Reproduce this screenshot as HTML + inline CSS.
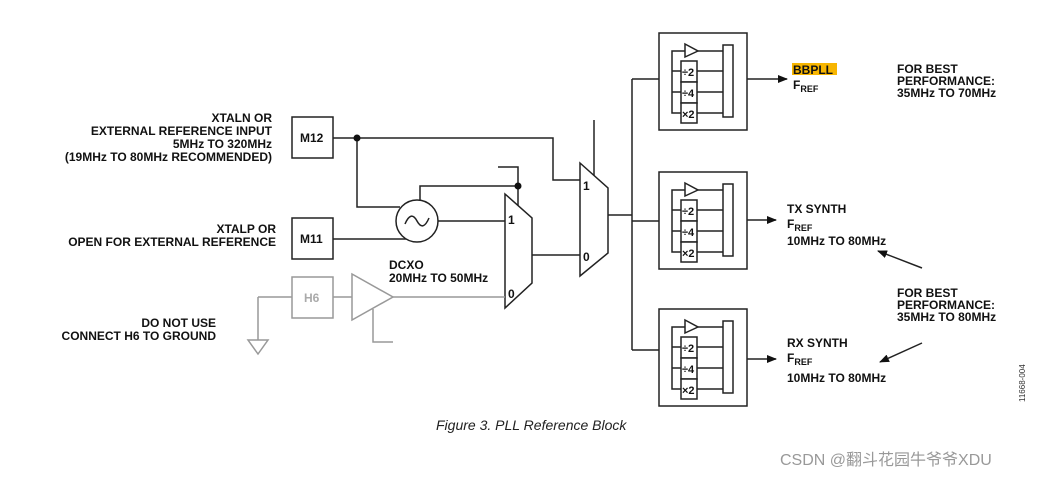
<!DOCTYPE html>
<html><head><style>
body{margin:0;background:#fff;}
svg{display:block;font-family:"Liberation Sans",Arial,sans-serif;}
text.b{font-weight:bold;font-size:12px;fill:#111;}
</style></head><body>
<svg width="1044" height="477" viewBox="0 0 1044 477" xmlns="http://www.w3.org/2000/svg">
<defs>
<marker id="ah" markerWidth="10" markerHeight="8" refX="9" refY="4" orient="auto" markerUnits="userSpaceOnUse"><path d="M0,0 L10,4 L0,8z" fill="#111"/></marker>
<g id="blk" stroke="#222" stroke-width="1.5" fill="none">
<rect x="0" y="0" width="88" height="97" fill="#fff"/>
<path d="M26,11 L39,18 L26,24z" fill="#fff"/>
<path d="M39,18 H64"/>
<path d="M26,18 H13 V80 H22 M13,38 H22 M13,59 H22"/>
<rect x="22" y="28" width="16" height="21" fill="#fff"/>
<rect x="22" y="49" width="16" height="21" fill="#fff"/>
<rect x="22" y="70" width="16" height="20" fill="#fff"/>
<path d="M38,38 H64 M38,59 H64 M38,80 H64"/>
<rect x="64" y="12" width="10" height="72" fill="#fff"/>
<text x="23" y="43" stroke="none" fill="#111" font-size="11" font-weight="bold">÷2</text>
<text x="23" y="64" stroke="none" fill="#111" font-size="11" font-weight="bold">÷4</text>
<text x="23" y="85" stroke="none" fill="#111" font-size="11" font-weight="bold">×2</text>
</g>
</defs>
<g stroke="#222" stroke-width="1.5" fill="none">
<rect x="292" y="117" width="41" height="41"/>
<rect x="292" y="218" width="41" height="41"/>
<path d="M333,138 H553 V180 H580"/>
<path d="M357,138 V207 H400"/>
<path d="M333,239 H413"/>
<circle cx="417" cy="221" r="21" fill="#fff"/>
<path d="M405,224 q6,-14 12,-3 q6,11 12,-3"/>
<path d="M420,200 V186 H518 V208"/>
<path d="M498,167 H518 V186"/>
<path d="M438,221 H505"/>
<path d="M505,194 L532,218 L532,283 L505,308z" fill="#fff"/>
<path d="M532,255 H580"/>
<path d="M594,120 V177"/>
<path d="M580,163 L608,188 L608,253 L580,276z" fill="#fff"/>
<path d="M608,215 H632 M632,79 V350"/>
<path d="M632,79 H659 M632,221 H659 M632,350 H659"/>
<path d="M747,79 H787" marker-end="url(#ah)"/>
<path d="M747,220 H776" marker-end="url(#ah)"/>
<path d="M747,359 H776" marker-end="url(#ah)"/>
<path d="M922,268 L878,251" marker-end="url(#ah)"/>
<path d="M922,343 L880,362" marker-end="url(#ah)"/>
</g>
<circle cx="357" cy="138" r="3.5" fill="#111"/>
<circle cx="518" cy="186" r="3.5" fill="#111"/>
<g stroke="#999" stroke-width="1.5" fill="none">
<rect x="292" y="277" width="41" height="41"/>
<path d="M258,297 H292 M333,297 H352 M393,297 H505"/>
<path d="M352,274 L393,297 L352,320z"/>
<path d="M373,309 V342 H393"/>
<path d="M258,297 V340 M248,340 H268 L258,354z"/>
</g>
<text x="304" y="302" font-size="12" font-weight="bold" fill="#aaa">H6</text>
<use href="#blk" x="659" y="33"/>
<use href="#blk" x="659" y="172"/>
<use href="#blk" x="659" y="309"/>
<text class="b" x="272" y="122" text-anchor="end">XTALN OR</text>
<text class="b" x="272" y="135" text-anchor="end">EXTERNAL REFERENCE INPUT</text>
<text class="b" x="272" y="148" text-anchor="end">5MHz TO 320MHz</text>
<text class="b" x="272" y="161" text-anchor="end">(19MHz TO 80MHz  RECOMMENDED)</text>
<text class="b" x="276" y="233" text-anchor="end">XTALP OR</text>
<text class="b" x="276" y="246" text-anchor="end">OPEN FOR EXTERNAL REFERENCE</text>
<text class="b" x="216" y="327" text-anchor="end">DO NOT USE</text>
<text class="b" x="216" y="340" text-anchor="end">CONNECT H6 TO GROUND</text>
<text class="b" x="300" y="142">M12</text>
<text class="b" x="300" y="243">M11</text>
<text class="b" x="389" y="269">DCXO</text>
<text class="b" x="389" y="282">20MHz TO 50MHz</text>
<text class="b" x="508" y="224">1</text>
<text class="b" x="508" y="298">0</text>
<text class="b" x="583" y="190">1</text>
<text class="b" x="583" y="261">0</text>
<rect x="792" y="63" width="45" height="12" fill="#f7b500"/>
<text class="b" x="793" y="74">BBPLL</text>
<text class="b" x="793" y="89">F<tspan font-size="9" dy="3">REF</tspan></text>
<text class="b" x="897" y="73">FOR BEST</text>
<text class="b" x="897" y="85">PERFORMANCE:</text>
<text class="b" x="897" y="97">35MHz TO 70MHz</text>
<text class="b" x="787" y="213">TX SYNTH</text>
<text class="b" x="787" y="228">F<tspan font-size="9" dy="3">REF</tspan></text>
<text class="b" x="787" y="245">10MHz TO 80MHz</text>
<text class="b" x="897" y="297">FOR BEST</text>
<text class="b" x="897" y="309">PERFORMANCE:</text>
<text class="b" x="897" y="321">35MHz TO 80MHz</text>
<text class="b" x="787" y="347">RX SYNTH</text>
<text class="b" x="787" y="362">F<tspan font-size="9" dy="3">REF</tspan></text>
<text class="b" x="787" y="382">10MHz TO 80MHz</text>
<text x="0" y="0" font-size="8" fill="#333" transform="translate(1025,402) rotate(-90)">11668-004</text>
<text x="436" y="430" font-size="14" font-style="italic" fill="#222">Figure 3. PLL Reference Block</text>
<text x="780" y="465" font-size="16" fill="#999" font-family="Liberation Sans,'Noto Sans CJK SC',sans-serif">CSDN @翻斗花园牛爷爷XDU</text>
</svg>
</body></html>
